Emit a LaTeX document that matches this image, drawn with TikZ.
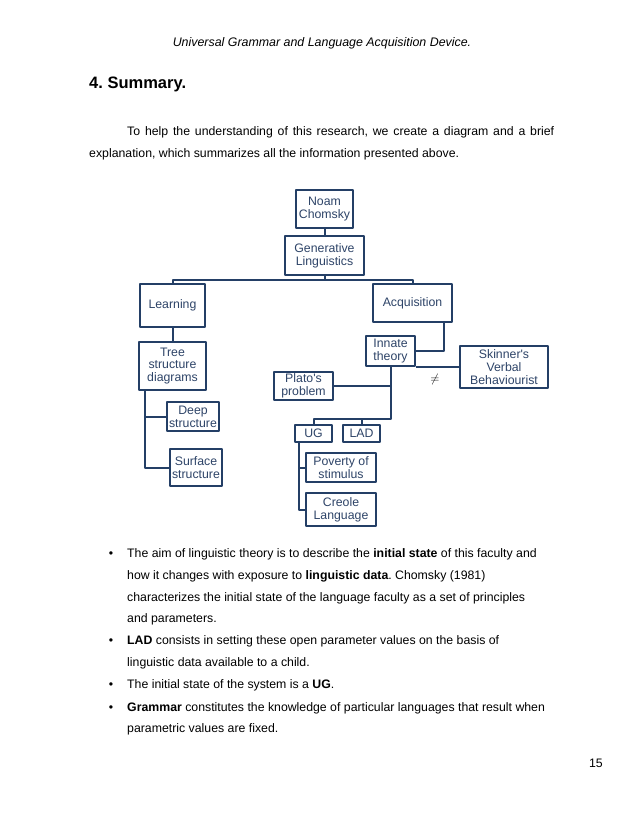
\documentclass[tikz,border=0pt]{standalone}
\usepackage{fontspec}
\setmainfont{Liberation Sans}
\frenchspacing
\begin{document}
\begin{tikzpicture}[x=1pt,y={(0pt,-1pt)},line join=round,font=\fontsize{12.3}{13}\selectfont]
		%\draw[gray!30] (0,0) grid[step=50] (638,826);
		\definecolor{navyline}{HTML}{243F66}
		\definecolor{navytext}{HTML}{2E4468}
		\path[fill=white,use as bounding box] (0,0) rectangle (638,826);
		\tikzset{blk/.style={draw=navyline,line width=2pt,text=navytext,align=center,inner sep=1pt,font=\fontsize{12.3}{12.8}\selectfont},
			wire/.style={navyline,line width=2pt},
			txt/.style={anchor=base west,inner sep=0pt}}
		
		% page text
		\node[anchor=base,inner sep=0pt,font=\itshape\fontsize{12.4}{13}\selectfont] (head) at (322,47) {Universal Grammar and Language Acquisition Device.};
		\node[txt,font=\bfseries\fontsize{16.5}{18}\selectfont] (sec) at (89,89) {4. Summary.};
		\node[txt] (par1) at (127,136) {\makebox[427pt][s]{To help the understanding of this research, we create a diagram and a brief}};
		\node[txt] (par2) at (89,158) {explanation, which summarizes all the information presented above.};
		
		\node[anchor=base,inner sep=0pt] (dot1) at (111,557) {\textbullet};
		\node[anchor=base,inner sep=0pt] (dot2) at (111,644) {\textbullet};
		\node[anchor=base,inner sep=0pt] (dot3) at (111,688) {\textbullet};
		\node[anchor=base,inner sep=0pt] (dot4) at (111,711) {\textbullet};
		\node[txt] (b1a) at (127,557) {The aim of linguistic theory is to describe the \textbf{initial state} of this faculty and};
		\node[txt] (b1b) at (127,579) {how it changes with exposure to \textbf{linguistic data}. Chomsky (1981)};
		\node[txt] (b1c) at (127,601) {characterizes the initial state of the language faculty as a set of principles};
		\node[txt] (b1d) at (127,622) {and parameters.};
		\node[txt] (b2a) at (127,644) {\textbf{LAD} consists in setting these open parameter values on the basis of};
		\node[txt] (b2b) at (127,666) {linguistic data available to a child.};
		\node[txt] (b3a) at (127,688) {The initial state of the system is a \textbf{UG}.};
		\node[txt] (b4a) at (127,711) {\textbf{Grammar} constitutes the knowledge of particular languages that result when};
		\node[txt] (b4b) at (127,732) {parametric values are fixed.};
		\node[anchor=base east,inner sep=0pt] (pg) at (603,767) {15};
		
		% diagram
		\node[blk,minimum width=57,minimum height=38] (noam) at (324.5,209) {Noam\\Chomsky};
		\node[blk,minimum width=79,minimum height=39] (gen) at (324.5,255.5) {Generative\\Linguistics};
		\node[blk,minimum width=65,minimum height=43] (learn) at (172.5,305.5) {Learning};
		\node[blk,minimum width=79,minimum height=38] (acq) at (412.5,303) {Acquisition};
		\node[blk,minimum width=67,minimum height=48] (tree) at (172.5,366) {Tree\\structure\\diagrams};
		\node[blk,minimum width=52,minimum height=29] (deep) at (193,416.5) {Deep\\structure};
		\node[blk,minimum width=52,minimum height=37] (surf) at (196,467.5) {Surface\\structure};
		\node[blk,minimum width=49,minimum height=30] (innate) at (390.5,351) {Innate\\theory};
		\node[blk,minimum width=88,minimum height=42] (skin) at (504,367) {Skinner\textquotesingle s\\Verbal\\Behaviourist};
		\node[blk,minimum width=59,minimum height=28] (plato) at (303.5,386) {Plato\textquotesingle s\\problem};
		\node[blk,minimum width=37,minimum height=17] (ug) at (313.5,433.5) {UG};
		\node[blk,minimum width=37,minimum height=17] (lad) at (361.5,433.5) {LAD};
		\node[blk,minimum width=70,minimum height=29] (pov) at (341,467.5) {Poverty of\\stimulus};
		\node[blk,minimum width=70,minimum height=33] (creole) at (341,509.5) {Creole\\Language};
		\node[inner sep=0pt] (neq) at (435,379) {$\neq$};
		
		\coordinate (genbus) at (324.5,280);
		\coordinate (treebus) at (145,390);
		\coordinate (acqdrop) at (444,322);
		\coordinate (innbus) at (390.5,419);
		\coordinate (ugdrop) at (299,442);
		
		\draw[wire] (noam) -- (gen);
		\draw[wire] (gen) -- (genbus) -| (learn);
		\draw[wire] (genbus) -| (acq);
		\draw[wire] (learn) -- (tree);
		\draw[wire] (treebus) |- (deep);
		\draw[wire] (treebus) |- (surf);
		\draw[wire] (acqdrop) |- (innate);
		\draw[wire] (innate.south east) -- (innate.south east -| skin.west);
		\draw[wire] (innate) -- (innbus) -| (ug);
		\draw[wire] (innbus) -| (lad);
		\draw[wire] (plato) -- (plato -| innbus);
		\draw[wire] (ugdrop) |- (pov);
		\draw[wire] (ugdrop) |- (creole);
	\end{tikzpicture}
\end{document}
